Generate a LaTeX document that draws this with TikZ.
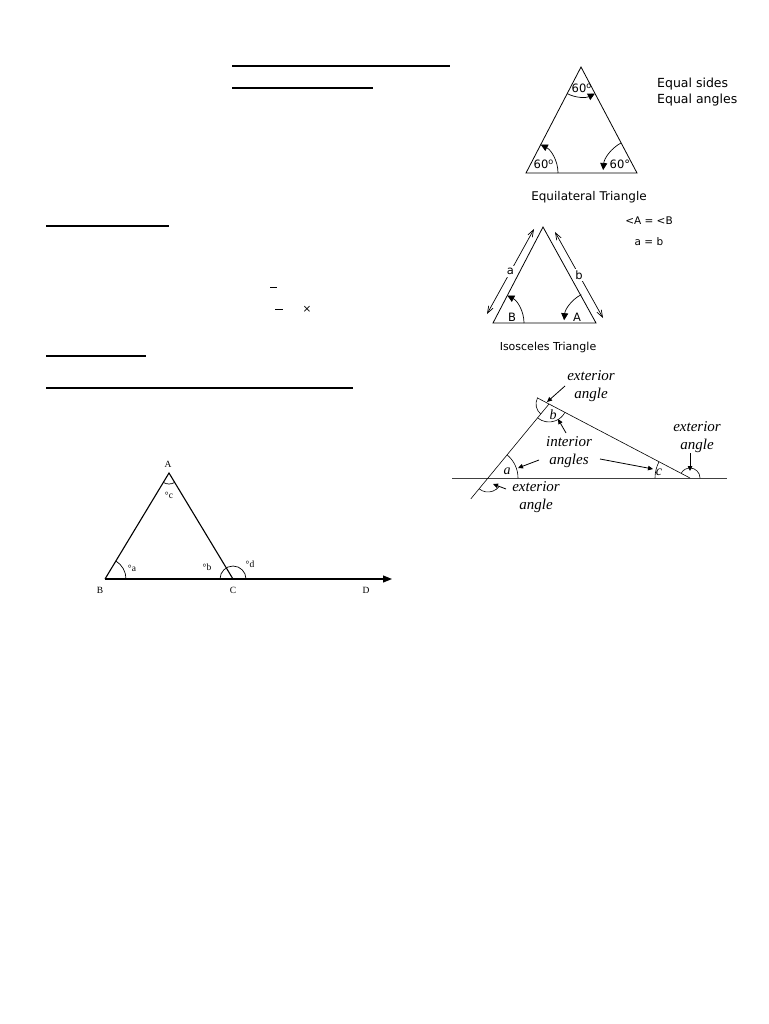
\documentclass[tikz,border=0pt]{standalone}
\usepackage{fontspec}
\setmainfont{Liberation Serif}
\newfontfamily\guifont{DejaVu Sans}
\usetikzlibrary{arrows.meta,calc}

\tikzset{
    rulebar/.style={line width=2pt},
    thinbar/.style={line width=1.1pt},
    edge/.style={line width=1.1pt},
    angarrow/.style={line width=0.7pt,-{Triangle[length=7pt,width=7pt]}},
    sidearrow/.style={line width=0.7pt,{Straight Barb[length=7pt,width=5pt]}-{Straight Barb[length=7pt,width=5pt]}},
    ptr/.style={line width=0.8pt,-{Triangle[length=5pt,width=4.5pt]}},
    guitext/.style={font=\guifont\fontsize{10.5}{12}\selectfont,inner sep=0pt},
    bigtext/.style={font=\guifont\fontsize{12.5}{14}\selectfont,inner sep=0pt,anchor=base west},
    serlabel/.style={font=\fontsize{9.5}{11}\selectfont,inner sep=0pt},
    itlabel/.style={font=\itshape\fontsize{15}{18}\selectfont,inner sep=0pt,align=center},
}

\begin{document}
\begin{tikzpicture}[x=1pt,y=1pt]
    \useasboundingbox[fill=white] (0,0) rectangle (768,-1024);

    % Rules of the text
    \foreach \y/\xe in {-66/450,-88/373} {
        \draw[rulebar] (232,\y) -- (\xe,\y);
    }
    \foreach \y/\xe in {-226/169,-356/146} {
        \draw[rulebar] (46,\y) -- (\xe,\y);
    }
    \draw[thinbar] (46,-388) -- (353,-388);
    \draw[line width=0.8pt] (270,-287) -- (277,-287);
    \draw[line width=0.8pt] (275,-309) -- (283,-309);
    \node[guitext] (times) at (307,-309) {×};

    % Triangle ABC with side BC produced to D
    \coordinate (A) at (169,-473);
    \coordinate (B) at (105,-579);
    \coordinate (C) at (233,-579);
    \coordinate (D) at (392,-579);
    \draw[edge] (B) -- (A) -- (C);
    \draw[edge,-{Triangle[length=9pt,width=7pt]}] (B) -- (D);
    \draw[line width=0.7pt] (B) ++(0:21) arc (0:58.9:21);
    \draw[line width=0.7pt] (A) ++(238.9:11) arc (238.9:301.1:11);
    \draw[line width=0.7pt] (C) ++(0:13) arc (0:180:13);
    \node[serlabel] (labA) at (168,-464) {A};
    \node[serlabel] (labB) at (100,-590) {B};
    \node[serlabel] (labC) at (233,-590) {C};
    \node[serlabel] (labD) at (366,-590) {D};
    \node[serlabel] (angc) at (169,-495) {°c};
    \node[serlabel] (anga) at (132,-568) {°a};
    \node[serlabel] (angb) at (207,-567) {°b};
    \node[serlabel] (angd) at (250,-564) {°d};

    % Equilateral triangle
    \coordinate (E1) at (581,-67);
    \coordinate (E2) at (526,-173);
    \coordinate (E3) at (637,-173);
    \draw[line width=0.8pt] (E1) -- (E2) -- (E3) -- cycle;
    \draw[angarrow] (E1) ++(242.6:30) arc (242.6:297.4:30);
    \draw[angarrow] (E2) ++(0:32) arc (0:62.6:32);
    \draw[angarrow] (E3) ++(117.4:34) arc (117.4:175:34);
    \node[guitext,font=\guifont\fontsize{11.5}{13}\selectfont,anchor=base west] (sixtyT) at (571.5,-93) {60\textsuperscript{o}};
    \node[guitext,font=\guifont\fontsize{11.5}{13}\selectfont,anchor=base west] (sixtyL) at (533.5,-169) {60\textsuperscript{o}};
    \node[guitext,font=\guifont\fontsize{11.5}{13}\selectfont,anchor=base west] (sixtyR) at (609.5,-169) {60°};
    \node[bigtext] (eqsides) at (657,-88) {Equal sides};
    \node[bigtext] (eqangles) at (657,-104) {Equal angles};
    \node[guitext,font=\guifont\fontsize{12}{14}\selectfont] (eqname) at (589,-197) {Equilateral Triangle};

    % Isosceles triangle
    \coordinate (I1) at (543,-227);
    \coordinate (I2) at (493,-323);
    \coordinate (I3) at (596,-323);
    \draw[line width=0.8pt] (I1) -- (I2) -- (I3) -- cycle;
    \draw[angarrow] (I2) ++(0:31) arc (0:62.5:31);
    \draw[angarrow] (I3) ++(117.5:32) arc (117.5:175:32);
    \coordinate (a1) at (487,-314);
    \coordinate (a2) at (534,-229);
    \coordinate (b1) at (555,-232);
    \coordinate (b2) at (603,-318);
    \draw[sidearrow] (a1) -- node[guitext,font=\guifont\fontsize{11.5}{13}\selectfont,fill=white,inner sep=2pt] (sidea) {a} (a2);
    \draw[sidearrow] (b1) -- node[guitext,font=\guifont\fontsize{11.5}{13}\selectfont,fill=white,inner sep=2pt] (sideb) {b} (b2);
    \node[guitext,font=\guifont\fontsize{11.5}{13}\selectfont] (angB) at (512,-317) {B};
    \node[guitext,font=\guifont\fontsize{11.5}{13}\selectfont] (angA) at (577,-317) {A};
    \node[guitext] (eqAB) at (649,-221) {<A = <B};
    \node[guitext] (eqab) at (649,-242) {a = b};
    \node[guitext,font=\guifont\fontsize{11}{13}\selectfont] (isoname) at (548,-347) {Isosceles Triangle};

    % Interior and exterior angles
    \coordinate (Va) at (488,-478);
    \coordinate (Vb) at (549,-404);
    \coordinate (Vc) at (690,-478);
    \draw[line width=0.7pt,black!75] (452,-478) -- (727,-478);
    \draw[line width=0.6pt] ($(Vb)!1.28!(Va)$) -- (Vb);
    \draw[line width=0.6pt] ($(Vc)!1.085!(Vb)$) -- (Vc);
    \draw[line width=0.6pt] (Va) ++(0:30) arc (0:50.5:30);
    \draw[line width=0.6pt] (Va) ++(230.5:14) arc (230.5:323:14);
    \draw[line width=0.6pt] (Vb) ++(230.5:18) arc (230.5:332.3:18);
    \draw[line width=0.6pt] (Vb) ++(152.3:13) arc (152.3:230.5:13);
    \draw[line width=0.6pt] (Vc) ++(152.3:35) arc (152.3:180:35);
    \draw[line width=0.6pt] (Vc) ++(0:10) arc (0:152.3:10);
    \node[itlabel] (exttop) at (591,-386) {exterior\\angle};
    \node[itlabel] (extright) at (697,-437) {exterior\\angle};
    \node[itlabel] (intang) at (569,-452) {interior\\angles};
    \node[itlabel] (extbot) at (536,-497) {exterior\\angle};
    \node[itlabel,font=\itshape\fontsize{14}{16}\selectfont] (lta) at (507,-471) {a};
    \node[itlabel,font=\itshape\fontsize{14}{16}\selectfont] (ltb) at (553,-415) {b};
    \node[itlabel,font=\itshape\fontsize{14}{16}\selectfont] (ltc) at (659,-472) {c};
    \coordinate (t1) at (565,-386);  \coordinate (h1) at (547,-402);
    \coordinate (t2) at (566,-433);  \coordinate (h2) at (558,-419);
    \coordinate (t3) at (539,-460);  \coordinate (h3) at (518,-468);
    \coordinate (t4) at (600,-459);  \coordinate (h4) at (653,-469);
    \coordinate (t5) at (690,-453);  \coordinate (h5) at (690,-471);
    \coordinate (t6) at (506,-489);  \coordinate (h6) at (493,-484);
    \foreach \i in {1,...,6} {
        \draw[ptr] (t\i) -- (h\i);
    }
\end{tikzpicture}
\end{document}
